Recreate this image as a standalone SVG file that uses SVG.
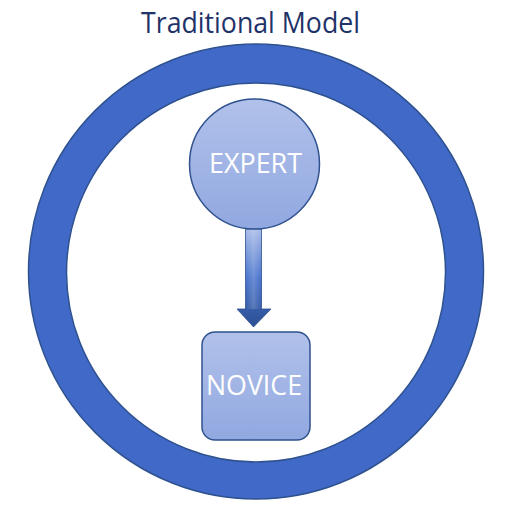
<svg xmlns="http://www.w3.org/2000/svg" width="512" height="516" viewBox="0 0 512 516">
  <defs>
    <linearGradient id="nodeGrad" x1="0" y1="0" x2="0" y2="1">
      <stop offset="0" stop-color="#B1C1EA"/>
      <stop offset="1" stop-color="#91A8E0"/>
    </linearGradient>
    <linearGradient id="arrowGrad" x1="0" y1="0" x2="0" y2="1">
      <stop offset="0" stop-color="#A8BBE8"/>
      <stop offset="0.5" stop-color="#4A74CC"/>
      <stop offset="1" stop-color="#2C4F93"/>
    </linearGradient>
    <linearGradient id="shaftShade" x1="0" y1="0" x2="1" y2="0">
      <stop offset="0" stop-color="#ffffff" stop-opacity="0"/>
      <stop offset="0.5" stop-color="#ffffff" stop-opacity="0.18"/>
      <stop offset="1" stop-color="#ffffff" stop-opacity="0"/>
    </linearGradient>
  </defs>
  <style>
    .title { font-family: "Open Sans", "Liberation Sans", sans-serif; font-size: 29px; fill: #1F3368; }
    .label { font-family: "Open Sans", "Liberation Sans", sans-serif; font-size: 27px; fill: #ffffff; }
    .node { fill: url(#nodeGrad); stroke: #2F528F; stroke-width: 1.5; }
    .ring { fill: #4169C8; stroke: #2F528F; stroke-width: 1.5; fill-rule: evenodd; }
  </style>

  <text class="title" x="250.5" y="33" text-anchor="middle" textLength="219" lengthAdjust="spacingAndGlyphs">Traditional Model</text>

  <g id="ring">
    <path class="ring" d="M256,44 A227.5,227.5 0 1,1 256,499 A227.5,227.5 0 1,1 256,44 Z M256,83 A189.5,189.5 0 1,0 256,462 A189.5,189.5 0 1,0 256,83 Z"/>
  </g>

  <g id="connectors">
    <path d="M245.5,229 L261.5,229 L261.5,309 L271,309 L253.5,327 L237,309 L245.5,309 Z" fill="url(#arrowGrad)" stroke="#2F528F" stroke-width="0.8"/>
    <rect x="246" y="229" width="15" height="80" fill="url(#shaftShade)"/>
  </g>

  <g id="expert">
    <circle class="node" cx="254.5" cy="164" r="65"/>
    <text class="label" x="255.5" y="172.5" text-anchor="middle" textLength="93" lengthAdjust="spacingAndGlyphs">EXPERT</text>
  </g>

  <g id="novice">
    <rect class="node" x="202" y="332" width="108" height="108" rx="13" ry="13"/>
    <text class="label" x="254" y="395" text-anchor="middle" textLength="96" lengthAdjust="spacingAndGlyphs">NOVICE</text>
  </g>
</svg>
